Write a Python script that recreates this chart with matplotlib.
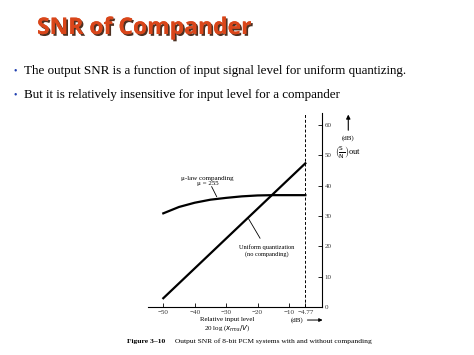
import matplotlib
matplotlib.use('Agg')
import matplotlib.pyplot as plt
import matplotlib.patheffects as pe

# Data
uniform_x = [-50, -4.77]
uniform_snr = [2.9, 47.4]

mulaw_x = [-50, -45, -40, -35, -30, -25, -20, -15, -10, -4.77]
mulaw_snr = [30.9, 33.0, 34.4, 35.4, 36.0, 36.5, 36.8, 36.9, 36.9, 36.9]

x_ticks = [-50, -40, -30, -20, -10, -4.77]
x_tick_labels = ['\u221250', '\u221240', '\u221230', '\u221220', '\u221210', '\u22124.77']
y_ticks = [0, 10, 20, 30, 40, 50, 60]

bullets = ['The output SNR is a function of input signal level for uniform quantizing.',
           'But it is relatively insensitive for input level for a compander']

serif = ['Liberation Serif', 'DejaVu Serif']

fig = plt.figure(figsize=(4.74, 3.55), dpi=100)
fig.patch.set_facecolor('white')

# Slide title and bullets
fig.text(37 / 474, 1 - 28 / 355, 'SNR of Compander', fontsize=16.5, fontweight='bold',
         family=['Open Sans', 'DejaVu Sans'], color='#d9461a', va='center', ha='left',
         path_effects=[pe.withSimplePatchShadow(offset=(1.3, -1.3), shadow_rgbFace='#3a1a0a', alpha=0.9),
                       pe.Normal()])
for i, line in enumerate(bullets):
    y = 1 - (71 + 24 * i) / 355
    fig.text(14 / 474, y, '\u2022', fontsize=7, color='#1f3fb0', va='center', family=serif)
    fig.text(24 / 474, y, line, fontsize=9.4, color='black', va='center', family=serif)

# Chart
ax = fig.add_axes([147.6 / 474, 48 / 355, 174.3 / 474, 194 / 355])
ax.set_xlim(-55, 0.5)
ax.set_ylim(0, 64)

ax.plot(uniform_x, uniform_snr, color='black', lw=1.6)
ax.plot(mulaw_x, mulaw_snr, color='black', lw=1.6)
ax.axvline(-4.77, color='black', lw=0.7, ls=(0, (3, 2)))

for s in ['left', 'top']:
    ax.spines[s].set_visible(False)
ax.spines['bottom'].set_linewidth(0.8)
ax.spines['right'].set_linewidth(0.8)
ax.yaxis.tick_right()
ax.set_xticks(x_ticks)
ax.set_xticklabels(x_tick_labels)
ax.set_yticks(y_ticks)
ax.tick_params(direction='in', length=3, width=0.6, labelsize=5)
ax.tick_params(axis='y', pad=2)
ax.tick_params(axis='x', pad=2.5)
for lab in ax.get_xticklabels() + ax.get_yticklabels():
    lab.set_family(serif)
    lab.set_color('#333333')

# Curve labels
ax.text(-35.9, 41.5, '\u03bc-law companding\n\u03bc = 255', fontsize=5, family=serif,
        ha='center', va='center', linespacing=1.0)
ax.plot([-34.6, -33.0], [39.7, 36.4], color='black', lw=0.6)
ax.text(-17.0, 18.6, 'Uniform quantization\n(no companding)', fontsize=4.6, family=serif,
        ha='center', va='center', linespacing=1.2)
ax.plot([-19.2, -22.9], [22.7, 29.2], color='black', lw=0.6)

# Y axis label with arrow
ax.annotate('', xy=(8.9, 64.4), xytext=(8.9, 57.4), xycoords='data', annotation_clip=False,
            arrowprops=dict(arrowstyle='-|>', color='black', lw=0.8, mutation_scale=6))
ax.text(8.9, 55.8, '(dB)', fontsize=5, family=serif, ha='center', va='center', clip_on=False)
ax.text(8.8, 51.0, r'$\left(\frac{\mathrm{S}}{\mathrm{N}}\right)$out', fontsize=6, family=serif,
        ha='center', va='center', clip_on=False)

# X axis labels
ax.text(-29.6, -4.1, 'Relative input level', fontsize=5, family=serif,
        ha='center', va='center', clip_on=False)
ax.text(-29.6, -7.0, r'20 log ($x_{rms}/V$)', fontsize=5, family=serif,
        ha='center', va='center', clip_on=False)
ax.text(-7.5, -4.3, '(dB)', fontsize=5, family=serif, ha='center', va='center', clip_on=False)
ax.annotate('', xy=(1.6, -4.3), xytext=(-5.0, -4.3), annotation_clip=False,
            arrowprops=dict(arrowstyle='-|>', color='black', lw=0.7, mutation_scale=5))

# Caption
fig.text(127 / 474, 1 - 341 / 355, 'Figure 3\u201310', fontsize=5.4, fontweight='bold',
         family=serif, va='center', ha='left')
fig.text(175 / 474, 1 - 341 / 355, 'Output SNR of 8-bit PCM systems with and without companding',
         fontsize=5.4, family=serif, va='center', ha='left')

fig.savefig('out.png', dpi=100, facecolor='white')
